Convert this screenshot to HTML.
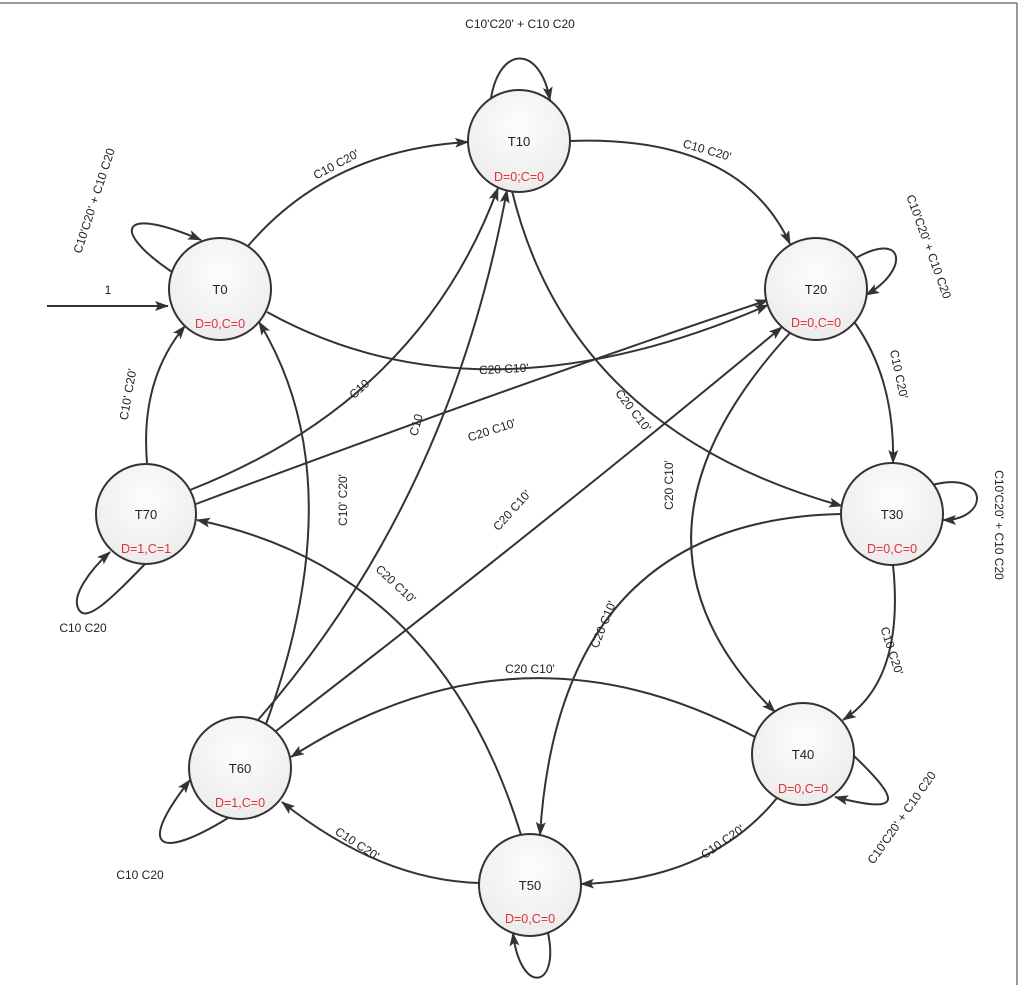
<!DOCTYPE html>
<html><head><meta charset="utf-8"><style>
html,body{margin:0;padding:0;background:#fff;}
svg{display:block;}
text{font-family:"Liberation Sans",sans-serif;font-size:12px;fill:#222;}
.r{fill:#e0303a;font-size:12.5px;}
.n{font-size:13px;}
</style></head><body>
<svg width="1024" height="985" viewBox="0 0 1024 985" xmlns="http://www.w3.org/2000/svg">
<defs>
<marker id="a" markerWidth="14" markerHeight="10" refX="13" refY="5" orient="auto" markerUnits="userSpaceOnUse">
<path d="M0,0 L14,5 L0,10 L3,5 z" fill="#333"/></marker>
<radialGradient id="g" cx="50%" cy="35%" r="65%"><stop offset="0" stop-color="#fdfdfd"/><stop offset="1" stop-color="#ececec"/></radialGradient>
</defs>
<line x1="0" y1="3" x2="1017" y2="3" stroke="#777" stroke-width="1.5"/>
<line x1="1017" y1="3" x2="1017" y2="985" stroke="#777" stroke-width="1.5"/>
<g fill="none" stroke="#333" stroke-width="2" marker-end="url(#a)">
<path d="M47 306 L168 306"/>
<path d="M172 272 C110 230,120 205,201 240"/>
<path d="M248 246 Q330 150 468 142"/>
<path d="M491 98 C500 45,540 45,550 100"/>
<path d="M570 141 Q740 135 790 244"/>
<path d="M856 258 C905 230,910 270,866 295"/>
<path d="M855 323 Q895 380 893 463"/>
<path d="M932 485 C990 470,990 520,943 520"/>
<path d="M893 565 Q905 680 843 720"/>
<path d="M853 755 C900 800,905 815,835 797"/>
<path d="M777 798 Q710 880 581 884"/>
<path d="M548 933 C560 990,520 995,513 933"/>
<path d="M479 883 Q380 880 282 802"/>
<path d="M228 818 C160 860,135 850,190 780"/>
<path d="M145 564 C110 600,85 625,78 608 C72 595,90 570,110 552"/>
<path d="M266 724 Q355 480 259 322"/>
<path d="M267 312 Q480 430 768 305"/>
<path d="M147 463 Q140 380 185 326"/>
<path d="M190 490 Q420 400 498 188"/>
<path d="M196 504 Q500 390 768 300"/>
<path d="M521 835 Q440 570 197 520"/>
<path d="M258 720 Q450 500 507 190"/>
<path d="M276 731 Q550 520 782 327"/>
<path d="M512 191 Q570 430 842 506"/>
<path d="M790 333 Q600 540 775 712"/>
<path d="M841 514 Q560 520 540 835"/>
<path d="M755 737 Q520 610 291 757"/>
</g>
<g stroke="#333" stroke-width="2" fill="url(#g)">
<circle cx="519" cy="141" r="51"/>
<circle cx="220" cy="289" r="51"/>
<circle cx="816" cy="289" r="51"/>
<circle cx="892" cy="514" r="51"/>
<circle cx="146" cy="514" r="50"/>
<circle cx="803" cy="754" r="51"/>
<circle cx="240" cy="768" r="51"/>
<circle cx="530" cy="885" r="51"/>
</g>
<g text-anchor="middle">
<text class="n" x="519" y="146">T10</text><text class="r" x="519" y="181">D=0;C=0</text>
<text class="n" x="220" y="294">T0</text><text class="r" x="220" y="328">D=0,C=0</text>
<text class="n" x="816" y="294">T20</text><text class="r" x="816" y="327">D=0,C=0</text>
<text class="n" x="892" y="519">T30</text><text class="r" x="892" y="553">D=0,C=0</text>
<text class="n" x="146" y="519">T70</text><text class="r" x="146" y="553">D=1,C=1</text>
<text class="n" x="803" y="759">T40</text><text class="r" x="803" y="793">D=0,C=0</text>
<text class="n" x="240" y="773">T60</text><text class="r" x="240" y="807">D=1,C=0</text>
<text class="n" x="530" y="890">T50</text><text class="r" x="530" y="923">D=0,C=0</text>

<text x="520" y="28">C10'C20' + C10 C20</text>
<text x="108" y="294">1</text>
<text transform="translate(98,202) rotate(-72)">C10'C20' + C10 C20</text>
<text transform="translate(338,168) rotate(-28)">C10 C20'</text>
<text transform="translate(706,154) rotate(16)">C10 C20'</text>
<text transform="translate(925,248) rotate(70)">C10'C20' + C10 C20</text>
<text transform="translate(895,375) rotate(78)">C10 C20'</text>
<text transform="translate(995,525) rotate(90)">C10'C20' + C10 C20</text>
<text transform="translate(888,652) rotate(72)">C10 C20'</text>
<text transform="translate(905,820) rotate(-55)">C10'C20' + C10 C20</text>
<text transform="translate(725,845) rotate(-35)">C10 C20'</text>
<text transform="translate(355,847) rotate(33)">C10 C20'</text>
<text x="140" y="879">C10 C20</text>
<text x="83" y="632">C10 C20</text>
<text transform="translate(132,395) rotate(-80)">C10' C20'</text>
<text x="504" y="373" transform="rotate(-3 504 373)">C20 C10'</text>
<text transform="translate(362,392) rotate(-42)">C10</text>
<text transform="translate(420,426) rotate(-75)">C10</text>
<text transform="translate(493,434) rotate(-18)">C20 C10'</text>
<text transform="translate(630,413) rotate(52)">C20 C10'</text>
<text transform="translate(347,500) rotate(-90)">C10' C20'</text>
<text transform="translate(673,485) rotate(-90)">C20 C10'</text>
<text transform="translate(515,513) rotate(-48)">C20 C10'</text>
<text transform="translate(393,587) rotate(43)">C20 C10'</text>
<text transform="translate(607,626) rotate(-68)">C20 C10'</text>
<text x="530" y="673">C20 C10'</text>
</g>
</svg>
</body></html>
